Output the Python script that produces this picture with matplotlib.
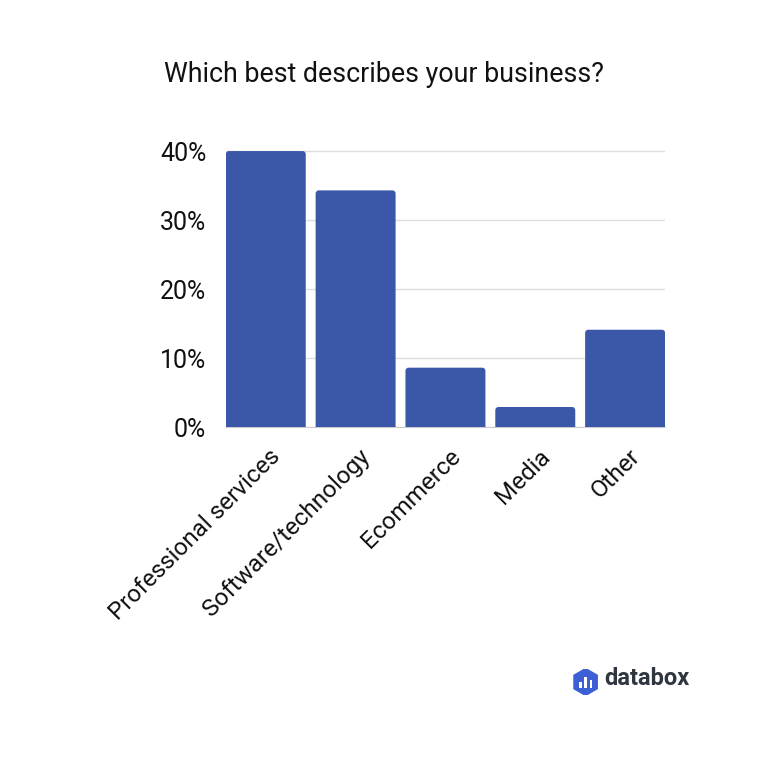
import numpy as np
import matplotlib.pyplot as plt
import matplotlib.transforms as mtransforms
from matplotlib.patches import RegularPolygon, FancyBboxPatch

plt.rcParams['font.family'] = ['Roboto', 'DejaVu Sans']

categories = ['Professional services', 'Software/technology', 'Ecommerce', 'Media', 'Other']
shares = [40.0, 34.3, 8.6, 2.9, 14.1]
yticks = [0, 10, 20, 30, 40]

bar_color = '#3b57a8'
bar_w = 0.89

fig = plt.figure(figsize=(7.68, 7.68), dpi=100)
ax = fig.add_axes([0.294, 0.444, 0.572, 0.362])

x = np.arange(len(categories))
ax.set_xlim(-bar_w / 2, len(categories) - 1 + bar_w / 2)
ax.set_ylim(0, 40.3)

# bars with slightly rounded tops (bottom is pushed below 0 and clipped)
px_x = 0.572 * 768 / (len(categories) - 1 + bar_w)
px_y = 0.362 * 768 / 40.3
for xi, h in zip(x, shares):
    p = FancyBboxPatch((xi - bar_w / 2, -2), bar_w, h + 2,
                       boxstyle='round,pad=0,rounding_size=0.035',
                       mutation_aspect=px_x / px_y,
                       facecolor=bar_color, edgecolor='none', zorder=3)
    ax.add_patch(p)

ax.set_yticks(yticks)
ax.set_yticklabels([f'{v}%' for v in yticks], fontsize=18, color='#111111')
ax.set_xticks(x)
ax.set_xticklabels(categories, rotation=45, ha='right', rotation_mode='anchor',
                   fontsize=17.5, color='#111111')
ax.tick_params(axis='y', length=0, pad=14)
ax.tick_params(axis='x', length=0, pad=13)
shift = mtransforms.ScaledTranslation(3 / 100, 0, fig.dpi_scale_trans)
for lbl in ax.get_xticklabels():
    lbl.set_transform(lbl.get_transform() + shift)
ax.grid(axis='y', color='#dddddd', linewidth=1, zorder=0)
for s in ['top', 'right', 'left']:
    ax.spines[s].set_visible(False)
ax.spines['bottom'].set_color('#cccccc')

fig.text(0.5, 0.903, 'Which best describes your business?', ha='center', va='center',
         fontsize=19.3, color='#111111')

# databox logo
logo = fig.add_axes([0.745, 0.0945, 0.035, 0.035])
logo.set_xlim(-1, 1)
logo.set_ylim(-1, 1)
logo.axis('off')
logo.add_patch(RegularPolygon((0, 0), 6, radius=1.0, orientation=0, color='#3d5fd6'))
for bx, bh in [(-0.4, 0.45), (0.0, 0.8), (0.4, 0.6)]:
    logo.bar(bx, bh, width=0.2, bottom=-0.45, color='white')
fig.text(0.787, 0.117, 'databox', ha='left', va='center', fontsize=17,
         fontweight='bold', color='#2f3640')

fig.savefig('out.png', dpi=100, facecolor='white')
